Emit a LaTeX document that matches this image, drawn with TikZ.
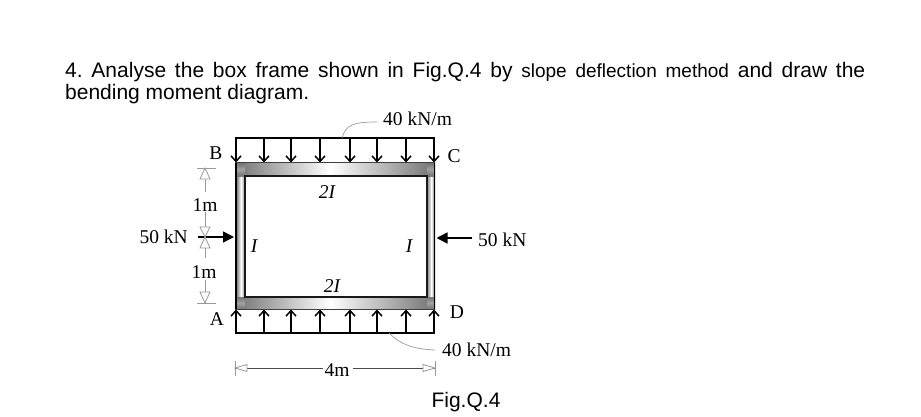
\documentclass[tikz,border=0pt]{standalone}
\usepackage{fontspec}
\setmainfont{Liberation Serif}
\newfontfamily\arialf{Liberation Sans}
\usetikzlibrary{arrows.meta}
\definecolor{dimgray}{gray}{0.6}
\tikzset{
 bodytext/.style={inner sep=0pt,anchor=base west,font=\arialf\fontsize{21}{23}\selectfont},
 figlabel/.style={inner sep=0pt,anchor=base,font=\fontsize{19.5}{22}\selectfont},
 ilabel/.style={inner sep=0pt,anchor=base,font=\itshape\fontsize{19.5}{22}\selectfont},
 loadarrow/.style={line width=1.6pt,-{Straight Barb[length=5.5pt,width=10pt,line width=1.5pt]}},
 loadbar/.style={line width=1.6pt},
 pointload/.style={line width=1.6pt,-{Triangle[length=11pt,width=11pt]}},
 dimline/.style={draw=dimgray,line width=0.8pt},
 dimtip/.style={draw=dimgray,line width=0.8pt,fill=white},
 leader/.style={draw=gray!80,line width=0.7pt},
}
\begin{document}
\begin{tikzpicture}[x=1pt,y=-1pt]
\useasboundingbox (0,0) rectangle (921,417);
\fill[white] (0,0) rectangle (921,417);
% text
\node[bodytext] (t1) at (65,78) {\hbox to 800pt{\spaceskip=0pt plus 1fil\xspaceskip=0pt plus 1fil 4. Analyse the box frame shown in Fig.Q.4 by {\fontsize{19}{21}\selectfont slope deflection method} and draw the}};
\node[bodytext] (t4) at (65,100) {bending moment diagram.};
\node[bodytext,anchor=base] (fig) at (466,407) {Fig.Q.4};
% frame members
\shade[left color=black!55,right color=white] (235,163) rectangle (330,176);
\shade[left color=white,right color=black!55] (330,163) rectangle (435,176);
\shade[left color=black!55,right color=white] (235,297) rectangle (330,309);
\shade[left color=white,right color=black!55] (330,297) rectangle (435,309);
\shade[left color=black!70,right color=white] (235,176) rectangle (241,297);
\shade[left color=white,right color=gray] (241,176) rectangle (245,297);
\shade[left color=gray,right color=white] (427,176) rectangle (431.5,297);
\shade[left color=white,right color=black!70] (431.5,176) rectangle (435,297);
\shade[top color=black!55,bottom color=black!55,middle color=black!35,opacity=0.9] (235,163) rectangle (245,176);
\shade[top color=black!55,bottom color=black!55,middle color=black!35,opacity=0.9] (427,163) rectangle (435,176);
\shade[top color=black!55,bottom color=black!55,middle color=black!35,opacity=0.9] (235,297) rectangle (245,309);
\shade[top color=black!55,bottom color=black!55,middle color=black!35,opacity=0.9] (427,297) rectangle (435,309);
\draw[line width=1.2pt,black!90] (245,176) rectangle (427,297);
\draw[line width=1pt,black!75] (235,163) -- (435,163);
\draw[line width=1pt,black!75] (235,309) -- (435,309);
\draw[line width=2.2pt,black] (236,163) -- (236,309);
\draw[line width=1.8pt,black] (434.5,163) -- (434.5,309);
% distributed loads
\coordinate (tl) at (236,138); \coordinate (tr) at (434,138);
\coordinate (bl) at (236,333); \coordinate (br) at (434,333);
\draw[loadbar,line cap=rect] (tl) -- (tr);
\draw[loadbar,line cap=rect] (bl) -- (br);
\foreach \x in {236,264,291,320,350,377,406,434}{
  \draw[loadarrow] (\x,138) -- (\x,162.5);
  \draw[loadarrow] (\x,333) -- (\x,309.5);
}
% point loads
\node[figlabel,anchor=base east] (lp) at (188,243) {50 kN};
\node[figlabel,anchor=base west] (rp) at (478,246) {50 kN};
\coordinate (pl) at (198,237); \coordinate (pla) at (234,237);
\coordinate (pr) at (472,238); \coordinate (pra) at (436.5,238);
\draw[pointload] (pl) -- (pla);
\draw[pointload] (pr) -- (pra);
% vertical dimension
\node[figlabel] (m1) at (205,211) {1m};
\node[figlabel] (m2) at (204,278) {1m};
\coordinate (dt) at (205,168); \coordinate (dm) at (205,237); \coordinate (db) at (205,303);
\draw[dimline] (197,168) -- (216,168);
\draw[dimline] (197,303) -- (216,303);
\draw[dimline] (dt) -- (205,192);
\draw[dimline] (205,212) -- (205,258);
\draw[dimline] (205,280) -- (db);
\draw[dimtip] (dt) -- (200,179) -- (210,179) -- cycle;
\draw[dimtip] (dm) -- (200,227) -- (210,227) -- cycle;
\draw[dimtip] (dm) -- (200,248) -- (210,248) -- cycle;
\draw[dimtip] (db) -- (200,292) -- (210,292) -- cycle;
% horizontal dimension
\node[figlabel] (m3) at (337,376) {4m};
\coordinate (dl) at (235,368); \coordinate (dr) at (435,368);
\draw[dimline] (235,361) -- (235,376);
\draw[dimline] (435,361) -- (435,376);
\draw[line width=0.7pt,black!70] (dl) -- (323,368);
\draw[line width=0.7pt,black!70] (353,368) -- (dr);
\draw[dimtip] (dl) -- (247,364.5) -- (247,371.5) -- cycle;
\draw[dimtip] (dr) -- (423,364.5) -- (423,371.5) -- cycle;
% labels
\node[figlabel] (B) at (216,160) {B};
\node[figlabel] (C) at (454,163) {C};
\node[figlabel] (A) at (217,325) {A};
\node[figlabel] (D) at (457,318) {D};
\node[ilabel] (i1) at (327,198) {2I};
\node[ilabel] (i2) at (332,292) {2I};
\node[ilabel] (i3) at (254,252) {I};
\node[ilabel] (i4) at (409,252) {I};
\node[figlabel,anchor=base west] (q1) at (383,126) {40 kN/m};
\node[figlabel,anchor=base west] (q2) at (442,356) {40 kN/m};
\coordinate (q1a) at (342,138); \coordinate (q1b) at (377,122);
\coordinate (q2a) at (389,333); \coordinate (q2b) at (435,350);
\draw[leader] (q1a) .. controls (346,125) and (352,122) .. (q1b);
\draw[leader] (q2a) .. controls (400,344) and (412,349) .. (q2b);
\end{tikzpicture}
\end{document}
